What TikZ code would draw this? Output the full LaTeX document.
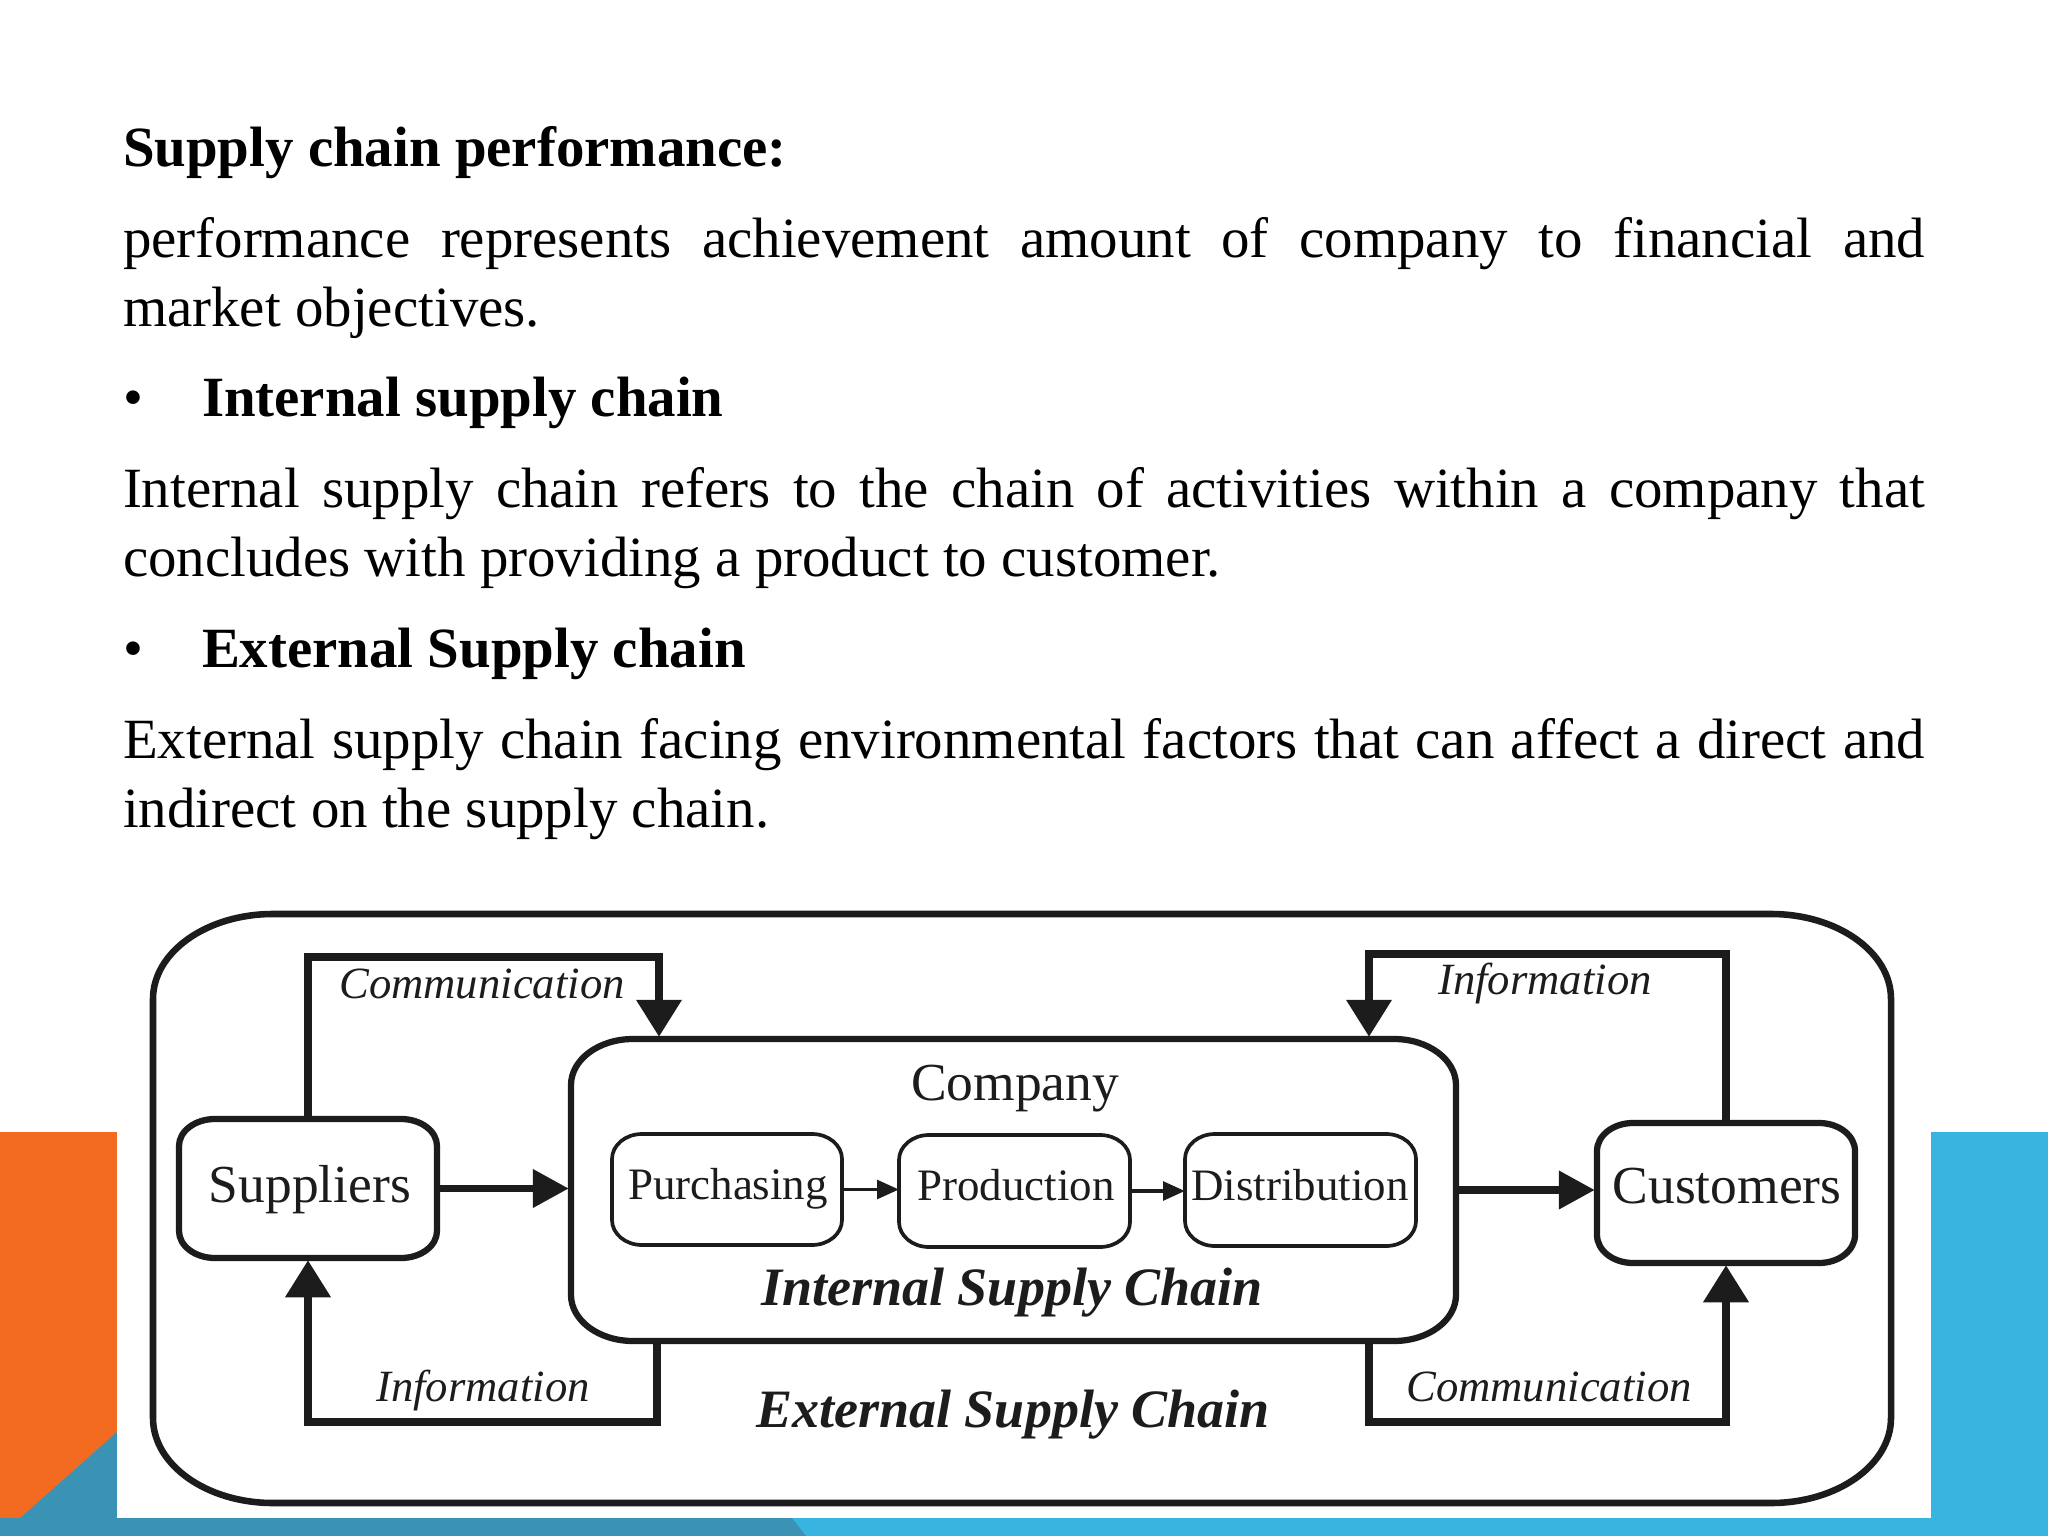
\documentclass[tikz,border=0pt]{standalone}
\usepackage{fontspec}
\setmainfont{Liberation Serif}
\usetikzlibrary{arrows.meta,calc,fit}

\definecolor{orng}{HTML}{F36B21}
\definecolor{tealc}{HTML}{3A92B4}
\definecolor{lblue}{HTML}{39B3DF}
\definecolor{ink}{HTML}{1C1C1C}

\newcommand\elbox[4][]{%
  \draw[#1] ($(#2.north west)+(#3,0)$) -- ($(#2.north east)+(-#3,0)$)
    arc[start angle=270,end angle=360,x radius=#3,y radius=#4]
    -- ($(#2.south east)+(0,-#4)$)
    arc[start angle=0,end angle=90,x radius=#3,y radius=#4]
    -- ($(#2.south west)+(#3,0)$)
    arc[start angle=90,end angle=180,x radius=#3,y radius=#4]
    -- ($(#2.north west)+(0,#4)$)
    arc[start angle=180,end angle=270,x radius=#3,y radius=#4]
    -- cycle;}

\begin{document}
\begin{tikzpicture}[x=0.3515625pt, y=-0.3515625pt,
  boxn/.style={inner sep=0pt, outer sep=0pt, draw=none},
  body/.style={anchor=base west, inner sep=0pt, outer sep=0pt, font=\fontsize{20pt}{24pt}\selectfont},
  bodyb/.style={body, font=\fontsize{20pt}{24pt}\selectfont\bfseries},
  biglab/.style={anchor=base, inner sep=0pt, text=ink, font=\fontsize{18.8pt}{22pt}\selectfont},
  smalllab/.style={anchor=base, inner sep=0pt, text=ink, font=\fontsize{15.8pt}{19pt}\selectfont},
  itlab/.style={anchor=base, inner sep=0pt, text=ink, font=\fontsize{15.7pt}{19pt}\selectfont\itshape},
  bilab/.style={anchor=base, inner sep=0pt, text=ink, font=\fontsize{19pt}{22pt}\selectfont\bfseries\itshape},
  outerline/.style={line width=2.3pt, draw=ink},
  bigline/.style={line width=2.2pt, draw=ink},
  smallline/.style={line width=1.3pt, draw=ink},
  conn/.style={line width=2.5pt, draw=ink, shorten >=0.8pt, -{Triangle[length=13pt,width=15.5pt]}},
  marrow/.style={line width=2.5pt, draw=ink, shorten >=0.8pt, -{Triangle[length=12.6pt,width=13pt]}},
  sarrow/.style={line width=1.4pt, draw=ink, -{Triangle[length=7.7pt,width=6.5pt]}}
]
\useasboundingbox (0,0) rectangle (2048,1536);
\fill[white] (0,0) rectangle (2048,1536);

% slide decorations
\fill[orng] (0,1132) rectangle (117,1536);
\fill[tealc] (117,1432) -- (117,1536) -- (0,1536) -- cycle;
\fill[lblue] (1931,1132) rectangle (2048,1536);
\fill[lblue] (0,1518) rectangle (2048,1536);
\fill[tealc] (0,1518) -- (792,1518) -- (806,1536) -- (0,1536) -- cycle;
\fill[white] (117,880) rectangle (1931,1518);

% text
\node[bodyb] (title) at (123,167) {Supply chain performance:};
\node[body] (l1) at (123,258) {\makebox[633.5pt][s]{performance represents achievement amount of company to financial and}};
\node[body] (l2) at (123,327) {market objectives.};
\node[body] (b1) at (123,417) {•};
\node[bodyb] (b1t) at (202,417) {Internal supply chain};
\node[body] (l3) at (123,508) {\makebox[633.5pt][s]{Internal supply chain refers to the chain of activities within a company that}};
\node[body] (l4) at (123,577) {concludes with providing a product to customer.};
\node[body] (b2) at (123,668) {•};
\node[bodyb] (b2t) at (202,668) {External Supply chain};
\node[body] (l5) at (123,758) {\makebox[633.5pt][s]{External supply chain facing environmental factors that can affect a direct and}};
\node[body] (l6) at (123,827) {indirect on the supply chain.};

% diagram boxes
\node[boxn, fit={(153,914)(1891,1503)}] (ext) {};
\node[boxn, fit={(571,1039)(1456,1341)}] (comp) {};
\node[boxn, fit={(179,1119)(437,1258)}] (sup) {};
\node[boxn, fit={(1597,1123)(1855,1263)}] (cus) {};
\node[boxn, fit={(612,1134)(842,1245)}] (pur) {};
\node[boxn, fit={(899,1135)(1130,1247)}] (pro) {};
\node[boxn, fit={(1185,1134)(1416,1246)}] (dis) {};

\elbox[outerline]{ext}{120}{85}
\elbox[bigline]{comp}{62}{46}
\elbox[bigline]{sup}{36}{27}
\elbox[bigline]{cus}{36}{28}
\elbox[smallline]{pur}{30}{25}
\elbox[smallline]{pro}{30}{25}
\elbox[smallline]{dis}{30}{25}

% labels
\node[biglab] (supL) at (310,1202) {Suppliers};
\node[biglab] (cusL) at (1727,1203) {Customers};
\node[biglab] (compL) at (1015,1100) {Company};
\node[smalllab] (purL) at (728,1199) {Purchasing};
\node[smalllab] (proL) at (1016,1200) {Production};
\node[smalllab] (disL) at (1300,1200) {Distribution};
\node[bilab] (intL) at (1012,1305) {Internal Supply Chain};
\node[bilab] (extL) at (1013,1427) {External Supply Chain};
\node[itlab] (comm1) at (482,998) {Communication};
\node[itlab] (info1) at (1545,994) {Information};
\node[itlab] (info2) at (483,1401) {Information};
\node[itlab] (comm2) at (1549,1401) {Communication};

% connectors
\coordinate (c1) at (659,957);
\coordinate (c2) at (1369,954);
\coordinate (c3) at (657,1422);
\coordinate (c4) at (1369,1422);
\draw[conn] (sup.north) |- (c1) -- (c1 |- comp.north);
\draw[conn] (cus.north) |- (c2) -- (c2 |- comp.north);
\draw[conn] (c3 |- comp.south) -- (c3) -| (sup.south);
\draw[conn] (c4 |- comp.south) -- (c4) -| (cus.south);
\draw[marrow] (sup.east) -- (sup.east -| comp.west);
\draw[marrow] (comp.east) -- (comp.east -| cus.west);
\draw[sarrow] (pur.east) -- (pur.east -| pro.west);
\draw[sarrow] (pro.east) -- (pro.east -| dis.west);
\end{tikzpicture}
\end{document}
